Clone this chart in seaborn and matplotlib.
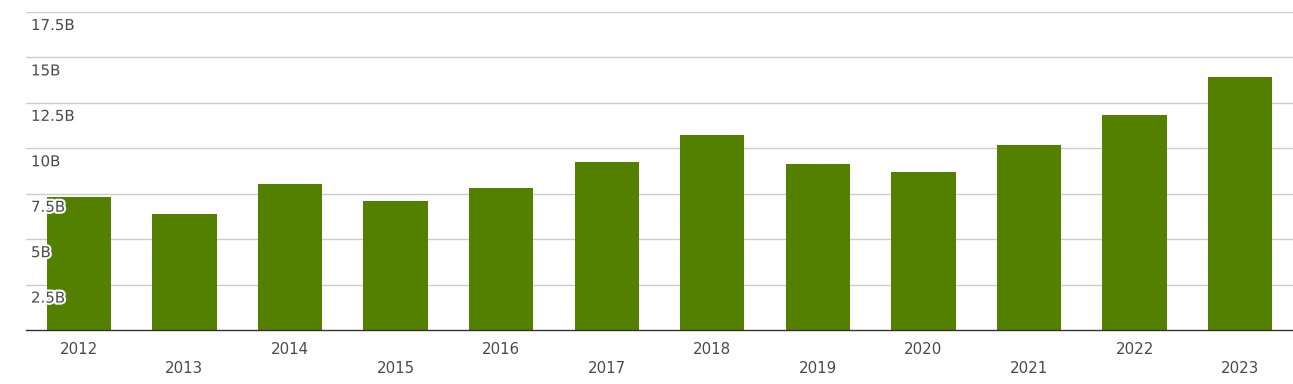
import matplotlib
matplotlib.use("Agg")
import matplotlib.pyplot as plt
import matplotlib.patheffects as pe
import matplotlib.transforms as mtransforms
import seaborn as sns
import pandas as pd

years = ["2012", "2013", "2014", "2015", "2016", "2017", "2018", "2019", "2020", "2021", "2022", "2023"]
values_b = [7.32, 6.38, 8.03, 7.10, 7.81, 9.25, 10.73, 9.14, 8.70, 10.18, 11.83, 13.92]
ytick_vals = [2.5, 5, 7.5, 10, 12.5, 15, 17.5]
ytick_labels = ["2.5B", "5B", "7.5B", "10B", "12.5B", "15B", "17.5B"]

df = pd.DataFrame({"year": years, "value": values_b})

sns.set_theme(style="white")
plt.rcParams["font.family"] = ["DejaVu Sans"]

fig = plt.figure(figsize=(12.93, 3.84), dpi=100)
ax = fig.add_axes([26 / 1293, 1 - 330 / 384, 1 - 26 / 1293, (330 - 12) / 384])

sns.barplot(data=df, x="year", y="value", color="#548000", saturation=1, width=0.61,
            linewidth=0, ax=ax)

ax.set_ylim(0, 17.5)
ax.set_xlim(-0.5, len(years) - 0.5)
ax.set_yticks(ytick_vals)
ax.set_yticklabels([])
ax.tick_params(axis="y", length=0)
ax.yaxis.grid(True, color="#cccccc", linewidth=1)
ax.set_axisbelow(True)
for s in ["left", "right", "top"]:
    ax.spines[s].set_visible(False)
ax.spines["bottom"].set_color("#333333")
ax.spines["bottom"].set_linewidth(1)
ax.set_xlabel("")
ax.set_ylabel("")

xlabels = [y if i % 2 == 0 else "\n" + y for i, y in enumerate(years)]
ax.set_xticks(range(len(years)))
ax.set_xticklabels(xlabels, fontsize=10.8, color="#4a4a4a", linespacing=1.3)
ax.tick_params(axis="x", length=0, pad=9)

trans = mtransforms.blended_transform_factory(ax.transAxes, ax.transData)
offset = mtransforms.ScaledTranslation(5 / 100, -6 / 100, fig.dpi_scale_trans)
for v, lab in zip(ytick_vals, ytick_labels):
    t = ax.text(0, v, lab, transform=trans + offset, ha="left", va="top",
                fontsize=10.8, color="#4a4a4a", zorder=5)
    t.set_path_effects([pe.withStroke(linewidth=3, foreground="white")])

fig.savefig("out.png", dpi=100)
